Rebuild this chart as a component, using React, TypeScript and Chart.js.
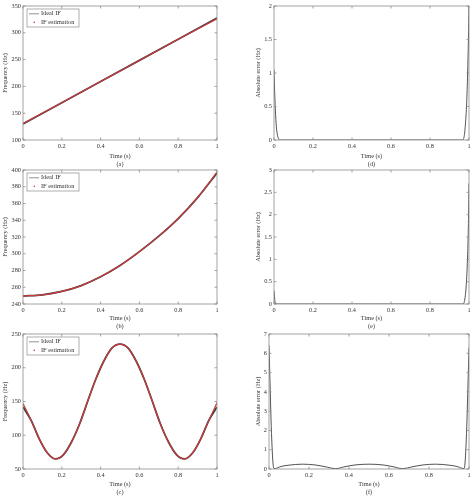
import React, { useEffect, useRef } from 'react';
import { Chart, registerables } from 'chart.js';

Chart.register(...registerables);

const FONT = '"Liberation Serif", "Times New Roman", serif';
const FONT_SIZE = 6.3;
const TEXT = '#333333';
const FRAME = '#8c8c8c';
const IDEAL_COLOR = '#3c3c3c';
const EST_COLOR = '#cc3a3c';
const ERR_COLOR = '#404040';

Chart.defaults.font.family = FONT;
Chart.defaults.font.size = FONT_SIZE;
Chart.defaults.color = TEXT;

// x axis (time, s) shared by all panels
const X_TICKS = [0, 0.2, 0.4, 0.6, 0.8, 1];

// (a) linear chirp
const T_A = [0, 0.2, 0.4, 0.6, 0.8, 1];
const IDEAL_A = [130, 169.5, 209, 248.5, 288, 327.5];
const EST_A = [131, 169.5, 209, 248.5, 288, 326];
const Y_TICKS_A = [100, 150, 200, 250, 300, 350];

// (b) quadratic chirp
const T_B = [0, 0.1, 0.2, 0.3, 0.4, 0.5, 0.6, 0.7, 0.8, 0.9, 1];
const IDEAL_B = [249.5, 251, 255, 262, 272.5, 286, 302.5, 321, 342, 367, 396.5];
const EST_B = [249.5, 251, 255, 262, 272.5, 286, 302.5, 321, 342, 367, 397.5];
const Y_TICKS_B = [240, 260, 280, 300, 320, 340, 360, 380, 400];

// (c) sinusoidal FM
const T_C = [0, 0.042, 0.083, 0.125, 0.167, 0.208, 0.25, 0.292, 0.333, 0.375, 0.417, 0.458, 0.5,
  0.542, 0.583, 0.625, 0.667, 0.708, 0.75, 0.792, 0.833, 0.875, 0.917, 0.958, 1];
const IDEAL_C = [142, 122, 95, 74, 65, 71, 90, 117, 150, 183, 210, 229, 235,
  229, 210, 183, 150, 117, 90, 71, 65, 74, 95, 122, 142];
const EST_C = [147, 122, 95, 74, 65, 71, 90, 117, 150, 183, 210, 229, 235,
  229, 210, 183, 150, 117, 90, 71, 65, 74, 95, 122, 148];
const Y_TICKS_C = [50, 100, 150, 200, 250];

// (d) absolute error of (a)
const T_D = [0, 0.003, 0.007, 0.012, 0.018, 0.025, 0.03, 0.5, 0.965, 0.975, 0.982, 0.988, 0.993, 0.997, 1];
const ERR_D = [1.05, 0.75, 0.45, 0.2, 0.07, 0.01, 0, 0, 0, 0.05, 0.25, 0.55, 1.0, 1.5, 2];
const Y_TICKS_D = [0, 0.5, 1, 1.5, 2];

// (e) absolute error of (b)
const T_E = [0, 0.005, 0.01, 0.5, 0.97, 0.98, 0.987, 0.993, 0.997, 1];
const ERR_E = [0.3, 0.05, 0, 0, 0, 0.15, 0.5, 1.1, 1.8, 2.7];
const Y_TICKS_E = [0, 0.5, 1, 1.5, 2, 2.5, 3];

// (f) absolute error of (c)
const T_F = [0, 0.005, 0.01, 0.015, 0.02, 0.025, 0.06, 0.1, 0.167, 0.23, 0.28, 0.333, 0.38, 0.43, 0.5,
  0.57, 0.62, 0.667, 0.72, 0.77, 0.833, 0.9, 0.94, 0.975, 0.98, 0.985, 0.99, 0.995, 1];
const ERR_F = [6.4, 4.5, 2.6, 1.2, 0.3, 0.02, 0.13, 0.2, 0.25, 0.21, 0.12, 0.02, 0.12, 0.21, 0.25,
  0.21, 0.12, 0.02, 0.12, 0.21, 0.25, 0.2, 0.13, 0.02, 0.3, 1.2, 2.6, 4.4, 6.3];
const Y_TICKS_F = [0, 1, 2, 3, 4, 5, 6, 7];

const pts = (t: number[], v: number[]) => t.map((x, i) => ({ x, y: v[i] }));

// MATLAB-like box with inward ticks on all four sides
const framePlugin = {
  id: 'matlabFrame',
  afterDatasetsDraw(chart: any) {
    const { ctx, chartArea: a, scales } = chart;
    ctx.save();
    ctx.strokeStyle = FRAME;
    ctx.lineWidth = 0.8;
    ctx.strokeRect(a.left, a.top, a.right - a.left, a.bottom - a.top);
    const len = 2.5;
    ctx.beginPath();
    scales.x.ticks.forEach((t: any) => {
      const px = scales.x.getPixelForValue(t.value);
      ctx.moveTo(px, a.bottom);
      ctx.lineTo(px, a.bottom - len);
      ctx.moveTo(px, a.top);
      ctx.lineTo(px, a.top + len);
    });
    scales.y.ticks.forEach((t: any) => {
      const py = scales.y.getPixelForValue(t.value);
      ctx.moveTo(a.left, py);
      ctx.lineTo(a.left + len, py);
      ctx.moveTo(a.right, py);
      ctx.lineTo(a.right - len, py);
    });
    ctx.stroke();
    ctx.restore();
  },
};

const legendPlugin = {
  id: 'ifLegend',
  afterDatasetsDraw(chart: any) {
    const { ctx, chartArea: a } = chart;
    const x = a.left + 4;
    const y = a.top + 3;
    const w = 52;
    const h = 18;
    ctx.save();
    ctx.fillStyle = '#ffffff';
    ctx.fillRect(x, y, w, h);
    ctx.strokeStyle = FRAME;
    ctx.lineWidth = 0.7;
    ctx.strokeRect(x, y, w, h);
    ctx.font = `${FONT_SIZE}px ${FONT}`;
    ctx.textBaseline = 'middle';
    chart.data.datasets.forEach((ds: any, i: number) => {
      const cy = y + 4.8 + i * 8.4;
      if (ds.legendKind === 'line') {
        ctx.strokeStyle = '#777777';
        ctx.lineWidth = 0.8;
        ctx.beginPath();
        ctx.moveTo(x + 2, cy);
        ctx.lineTo(x + 12, cy);
        ctx.stroke();
      } else {
        ctx.fillStyle = EST_COLOR;
        ctx.beginPath();
        ctx.arc(x + 7.3, cy, 0.8, 0, Math.PI * 2);
        ctx.fill();
      }
      ctx.fillStyle = TEXT;
      ctx.fillText(ds.label, x + 14, cy);
    });
    ctx.restore();
  },
};

interface PanelProps {
  left: number;
  top: number;
  width: number;
  height: number;
  padLeft: number;
  padRight: number;
  padTop: number;
  yWidth: number;
  xHeight: number;
  titlePad: number;
  yTitle: string;
  caption: string;
  yTicks: number[];
  datasets: any[];
  legend?: boolean;
}

const Panel: React.FC<PanelProps> = (p) => {
  const ref = useRef<HTMLCanvasElement>(null);

  useEffect(() => {
    if (!ref.current) return;
    const chart = new Chart(ref.current, {
      type: 'line',
      data: { datasets: p.datasets },
      options: {
        animation: false,
        responsive: false,
        events: [],
        layout: { padding: { left: p.padLeft, right: p.padRight, top: p.padTop, bottom: 0 } },
        plugins: { legend: { display: false }, tooltip: { enabled: false } },
        elements: { point: { radius: 0 } },
        scales: {
          x: {
            type: 'linear',
            min: 0,
            max: 1,
            afterBuildTicks: (s: any) => { s.ticks = X_TICKS.map((v) => ({ value: v })); },
            afterFit: (s: any) => { s.height = p.xHeight; },
            grid: { display: false, drawTicks: false },
            border: { display: false },
            ticks: { padding: 2.5, autoSkip: false, maxRotation: 0, callback: (v: any) => String(v) },
            title: {
              display: true,
              text: ['Time (s)', p.caption],
              padding: { top: 0, bottom: p.titlePad },
              font: { size: FONT_SIZE, lineHeight: 1.2 },
            },
          },
          y: {
            type: 'linear',
            min: p.yTicks[0],
            max: p.yTicks[p.yTicks.length - 1],
            afterBuildTicks: (s: any) => { s.ticks = p.yTicks.map((v) => ({ value: v })); },
            afterFit: (s: any) => { s.width = p.yWidth; },
            grid: { display: false, drawTicks: false },
            border: { display: false },
            ticks: { padding: 2, autoSkip: false, callback: (v: any) => String(v) },
            title: {
              display: true,
              text: p.yTitle,
              padding: { top: 2, bottom: 0 },
              font: { size: FONT_SIZE, lineHeight: 1.2 },
            },
          },
        },
      } as any,
      plugins: p.legend ? [framePlugin, legendPlugin] : [framePlugin],
    });
    return () => chart.destroy();
  }, []);

  return (
    <canvas
      ref={ref}
      width={p.width}
      height={p.height}
      style={{ position: 'absolute', left: p.left, top: p.top, width: p.width, height: p.height }}
    />
  );
};

const ifSets = (t: number[], ideal: number[], est: number[], smooth: boolean) => [
  {
    label: 'Ideal IF',
    legendKind: 'line',
    data: pts(t, ideal),
    borderColor: IDEAL_COLOR,
    borderWidth: 1.8,
    cubicInterpolationMode: smooth ? 'monotone' : 'default',
    order: 1,
  },
  {
    label: 'IF estimation',
    legendKind: 'dot',
    data: pts(t, est),
    borderColor: EST_COLOR,
    borderWidth: 1.2,
    cubicInterpolationMode: smooth ? 'monotone' : 'default',
    order: 0,
  },
];

const errSet = (t: number[], err: number[]) => [
  {
    label: 'Absolute error',
    data: pts(t, err),
    borderColor: ERR_COLOR,
    borderWidth: 0.9,
    cubicInterpolationMode: 'monotone',
  },
];

const App: React.FC = () => {
  const left = { left: 0, width: 237, padLeft: 0, padRight: 20 };
  const right = { left: 237, width: 237, padLeft: 16, padRight: 5 };
  const row1 = { top: 0, height: 168, padTop: 6, xHeight: 28, titlePad: 0.2 };
  const row2 = { top: 164, height: 166, padTop: 6, xHeight: 26, titlePad: 0.2 };
  const row3 = { top: 328, height: 169, padTop: 6, xHeight: 28, titlePad: 1.2 };

  return (
    <div style={{ position: 'fixed', left: 0, top: 0, width: 474, height: 497, background: '#ffffff' }}>
      <Panel {...left} {...row1} yWidth={23} yTitle="Frequency (Hz)" caption="(a)" yTicks={Y_TICKS_A}
        datasets={ifSets(T_A, IDEAL_A, EST_A, false)} legend />
      <Panel {...right} {...row1} yWidth={21} yTitle="Absolute error (Hz)" caption="(d)" yTicks={Y_TICKS_D}
        datasets={errSet(T_D, ERR_D)} />
      <Panel {...left} {...row2} yWidth={23} yTitle="Frequency (Hz)" caption="(b)" yTicks={Y_TICKS_B}
        datasets={ifSets(T_B, IDEAL_B, EST_B, true)} legend />
      <Panel {...right} {...row2} yWidth={21} yTitle="Absolute error (Hz)" caption="(e)" yTicks={Y_TICKS_E}
        datasets={errSet(T_E, ERR_E)} />
      <Panel {...left} {...row3} yWidth={23} yTitle="Frequency (Hz)" caption="(c)" yTicks={Y_TICKS_C}
        datasets={ifSets(T_C, IDEAL_C, EST_C, true)} legend />
      <Panel {...right} {...row3} yWidth={16} yTitle="Absolute error (Hz)" caption="(f)" yTicks={Y_TICKS_F}
        datasets={errSet(T_F, ERR_F)} />
    </div>
  );
};

export default App;
